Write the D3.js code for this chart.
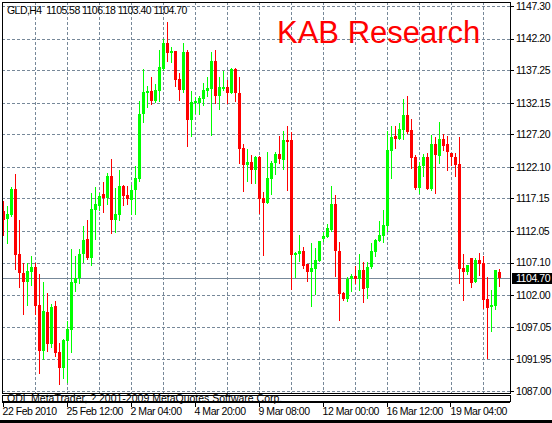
<!DOCTYPE html>
<html><head><meta charset="utf-8">
<script src="https://cdn.jsdelivr.net/npm/d3@7"></script>
<style>html,body{margin:0;padding:0;background:#fff}svg{display:block}</style>
</head><body>
<script>
// ---- data (GLD H4) ----
const opens = [1115.19,1113.94,1114.57,1118.64,1108.46,1105.53,1104.12,1105.69,1106.47,1100.47,
1093.26,1099.42,1094.36,1100.31,1093.15,1090.65,1094.88,1096.56,1103.97,1104.65,
1108.41,1110.76,1107.79,1115.35,1115.98,1117.85,1117.27,1120.68,1113.78,1114.57,
1119.11,1117.70,1116.92,1118.48,1120.16,1130.38,1133.72,1134.03,1132.47,1134.03,
1137.39,1141.56,1139.89,1140.25,1135.87,1134.14,1140.14,1129.45,1132.06,1132.06,
1132.69,1133.98,1134.30,1138.68,1133.20,1134.30,1134.66,1133.72,1137.43,1133.72,
1125.10,1122.40,1122.91,1121.62,1123.71,1117.19,1116.50,1120.16,1122.66,1124.12,
1123.18,1126.31,1126.31,1108.31,1108.46,1108.93,1106.85,1105.59,1106.11,1107.41,
1110.81,1111.17,1112.22,1116.29,1108.93,1102.30,1101.41,1104.50,1105.01,1104.50,
1105.95,1103.18,1106.38,1108.82,1110.54,1111.33,1112.89,1124.64,1126.99,1126.47,
1127.88,1130.23,1127.88,1123.71,1118.84,1122.24,1123.71,1118.64,1125.68,1123.86,
1126.47,1125.68,1124.23,1123.71,1122.56,1106.32,1105.69,1107.88,1104.12,1107.52,
1107.05,1101.36,1100.20,1100.31,1105.58];
const highs = [1116.76,1115.98,1119.00,1120.99,1113.78,1107.05,1107.05,1108.15,1107.05,1105.32,
1104.08,1102.30,1100.62,1101.09,1094.57,1095.15,1098.01,1109.20,1108.15,1109.20,
1112.84,1113.78,1118.06,1118.91,1118.06,1119.78,1121.10,1123.34,1118.75,1121.62,
1119.20,1119.11,1119.27,1122.24,1132.47,1137.43,1134.77,1136.14,1135.08,1140.41,
1142.08,1144.84,1140.84,1140.30,1136.86,1141.56,1140.41,1134.03,1133.00,1133.20,
1135.29,1136.23,1140.14,1140.41,1136.23,1137.12,1135.71,1137.54,1137.54,1136.23,
1125.68,1124.91,1123.97,1123.86,1123.81,1118.22,1124.39,1123.07,1124.39,1126.94,
1127.72,1128.51,1127.61,1108.82,1111.44,1109.60,1106.90,1110.23,1109.44,1110.55,
1111.95,1113.15,1119.11,1117.70,1110.29,1102.56,1104.81,1105.28,1106.63,1108.41,
1107.25,1107.16,1110.23,1110.75,1113.62,1115.35,1127.72,1128.56,1128.56,1128.93,
1132.73,1133.20,1129.56,1123.97,1122.82,1124.12,1124.23,1127.10,1126.83,1129.18,
1127.21,1126.94,1124.33,1124.33,1126.73,1108.46,1106.80,1107.90,1107.88,1108.57,
1108.15,1104.90,1102.82,1106.01,1106.18];
const lows = [1111.44,1110.23,1114.41,1106.11,1103.34,1099.06,1100.47,1103.61,1099.06,1089.87,
1092.01,1093.26,1093.94,1092.53,1088.10,1089.08,1088.37,1093.15,1102.71,1103.97,
1107.25,1107.63,1106.74,1110.81,1115.35,1114.99,1116.25,1111.80,1111.95,1113.78,
1116.14,1116.25,1114.67,1114.72,1119.94,1129.18,1131.44,1131.95,1132.31,1132.47,
1137.28,1138.68,1138.57,1134.82,1132.58,1133.87,1125.37,1126.94,1130.59,1130.34,
1131.79,1133.25,1127.10,1132.06,1131.17,1134.20,1132.06,1133.62,1132.42,1122.76,
1118.37,1119.94,1119.63,1119.63,1114.83,1108.31,1116.45,1117.85,1120.95,1122.66,
1121.73,1118.48,1102.93,1104.90,1107.41,1106.22,1104.23,1100.31,1102.19,1107.35,
1110.49,1111.07,1112.11,1105.06,1098.12,1101.25,1101.09,1102.66,1103.97,1102.82,
1100.98,1101.52,1106.22,1108.20,1110.45,1110.29,1112.06,1120.41,1125.10,1126.42,
1126.47,1127.46,1121.88,1118.59,1118.06,1120.68,1118.59,1118.48,1117.97,1122.76,
1124.75,1121.62,1122.40,1120.68,1103.97,1101.25,1105.32,1103.25,1104.10,1105.17,
1099.95,1092.12,1096.40,1099.84,1103.40];
const closes = [1113.78,1114.72,1118.64,1108.31,1105.53,1104.12,1105.80,1106.47,1100.36,1093.26,
1099.53,1094.36,1100.20,1092.90,1090.65,1094.99,1096.67,1104.03,1104.65,1108.46,
1110.65,1107.79,1115.46,1116.29,1117.54,1117.27,1120.68,1113.78,1114.72,1119.11,
1117.59,1117.02,1118.48,1120.41,1130.38,1133.87,1134.03,1132.47,1134.14,1137.79,
1141.56,1139.89,1140.25,1135.71,1134.14,1140.14,1129.45,1132.27,1132.47,1132.94,
1134.14,1134.50,1138.68,1133.20,1134.66,1134.66,1133.72,1137.43,1133.62,1124.86,
1122.40,1122.91,1121.62,1123.71,1117.03,1116.50,1120.32,1122.76,1124.12,1123.29,
1126.31,1126.04,1108.31,1108.57,1108.93,1106.63,1105.59,1106.22,1107.52,1110.49,
1111.33,1112.57,1116.29,1108.93,1102.19,1101.41,1104.54,1105.01,1104.50,1105.95,
1102.98,1106.38,1108.93,1110.65,1111.44,1113.00,1124.75,1126.83,1126.47,1128.04,
1130.23,1127.61,1123.55,1118.75,1122.24,1123.71,1118.64,1125.68,1123.97,1126.47,
1125.37,1124.44,1123.61,1122.40,1106.11,1105.69,1106.74,1103.97,1107.52,1106.90,
1101.25,1100.04,1100.47,1105.91,1104.70];

const priceTicks = [1147.30,1142.20,1137.25,1132.15,1127.20,1122.10,1117.15,1112.05,1107.10,1102.00,1097.05,1091.95,1087.00];
const timeLabels = ["22 Feb 2010","25 Feb 12:00","2 Mar 04:00","4 Mar 20:00","9 Mar 08:00","12 Mar 00:00","16 Mar 12:00","19 Mar 04:00"];
const timeLabelBars = [0,16,32,48,64,80,96,112];
const gridBars = [8,16,24,32,40,48,56,64,72,80,88,96,104,112,120];
const symbolName = "GLD,H4";
const lastBar = [1105.58,1106.18,1103.40,1104.70];
const lastPrice = 1104.70;
const watermark = "KAB Research";
const footer = "ODL MetaTrader, ? 2001-2009 MetaQuotes Software Corp.";

// ---- drawing ----
const W = 552, H = 423;
const plot = {left:2, right:510, top:2, bottom:393};
const GRID = "#778899", BULL = "#00ff00", BEAR = "#ff0000";
const n = opens.length;

const svg = d3.select("body").append("svg").attr("width", W).attr("height", H)
  .style("font-family", "'Liberation Sans', Arial, sans-serif");
svg.append("rect").attr("width", W).attr("height", H).attr("fill", "#fff");

const x = d3.scaleLinear().domain([0, n - 1]).range([3.5, 3.5 + 4 * (n - 1)]);
const y = d3.scaleLinear().domain([1087.00, 1147.30]).range([391, 6]);
const py = v => Math.round(y(v)) + 0.5;

const g = svg.append("g").attr("shape-rendering", "crispEdges");

// grid
g.selectAll("line.hg").data(priceTicks).join("line").attr("class", "hg")
  .attr("x1", plot.left).attr("x2", plot.right)
  .attr("y1", d => py(d)).attr("y2", d => py(d))
  .attr("stroke", GRID).attr("stroke-dasharray", "3,2");
g.selectAll("line.vg").data(gridBars).join("line").attr("class", "vg")
  .attr("x1", d => x(d)).attr("x2", d => x(d))
  .attr("y1", plot.top).attr("y2", plot.bottom)
  .attr("stroke", GRID).attr("stroke-dasharray", "3,2");

// current price line
g.append("line").attr("x1", plot.left).attr("x2", plot.right)
  .attr("y1", py(lastPrice)).attr("y2", py(lastPrice)).attr("stroke", GRID);

// candles
const bars = d3.range(n).map(i => ({i, o: opens[i], h: highs[i], l: lows[i], c: closes[i]}));
const cg = g.append("g");
cg.selectAll("line.wick").data(bars).join("line").attr("class", "wick")
  .attr("x1", d => x(d.i)).attr("x2", d => x(d.i))
  .attr("y1", d => Math.round(y(d.h))).attr("y2", d => Math.round(y(d.l)) + 1)
  .attr("stroke", d => d.c >= d.o ? BULL : BEAR);
cg.selectAll("rect.body").data(bars).join("rect").attr("class", "body")
  .attr("x", d => x(d.i) - 1.5).attr("width", 3)
  .attr("y", d => Math.round(y(Math.max(d.o, d.c))))
  .attr("height", d => Math.max(1, Math.round(y(Math.min(d.o, d.c))) - Math.round(y(Math.max(d.o, d.c)))))
  .attr("fill", d => d.c >= d.o ? BULL : BEAR);

// frame
g.append("rect").attr("x", plot.left + 0.5).attr("y", plot.top + 0.5)
  .attr("width", plot.right - plot.left).attr("height", plot.bottom - plot.top)
  .attr("fill", "none").attr("stroke", "#000");

// status box
g.append("rect").attr("x", plot.left + 0.5).attr("y", 395.5)
  .attr("width", plot.right - plot.left).attr("height", 6)
  .attr("fill", "#fff").attr("stroke", "#000");
svg.append("text").attr("x", 7).attr("y", 402).attr("font-size", 10.5)
  .attr("fill", "#000").text(footer);

// right price axis
g.selectAll("line.yt").data(priceTicks).join("line").attr("class", "yt")
  .attr("x1", plot.right).attr("x2", plot.right + 4)
  .attr("y1", d => py(d)).attr("y2", d => py(d)).attr("stroke", "#000");
svg.selectAll("text.yl").data(priceTicks).join("text").attr("class", "yl")
  .attr("x", 516).attr("y", d => y(d)).attr("dy", "0.36em")
  .attr("font-size", 10.5).attr("letter-spacing", "-0.45px").attr("fill", "#000")
  .text(d => d.toFixed(2));

// current price tag
g.append("rect").attr("x", 512).attr("y", Math.round(y(lastPrice)) - 5)
  .attr("width", 40).attr("height", 11).attr("fill", "#000");
svg.append("text").attr("x", 516).attr("y", y(lastPrice)).attr("dy", "0.36em")
  .attr("font-size", 10.5).attr("letter-spacing", "-0.45px").attr("fill", "#fff")
  .text(lastPrice.toFixed(2));

// time axis
g.append("line").attr("x1", plot.left).attr("x2", plot.right)
  .attr("y1", 402.5).attr("y2", 402.5).attr("stroke", "#000");
g.selectAll("line.xt").data(timeLabelBars).join("line").attr("class", "xt")
  .attr("x1", d => Math.round(x(d)) - 0.5).attr("x2", d => Math.round(x(d)) - 0.5)
  .attr("y1", 402).attr("y2", 407).attr("stroke", "#000");
svg.selectAll("text.xl").data(timeLabels).join("text").attr("class", "xl")
  .attr("x", (d, k) => x(timeLabelBars[k]) - 1).attr("y", 414.5)
  .attr("font-size", 10.5).attr("letter-spacing", "-0.45px").attr("fill", "#000")
  .text(d => d);

// bottom band
g.append("rect").attr("x", 0).attr("y", 420).attr("width", W).attr("height", 3).attr("fill", "#000");

// header and watermark
svg.append("text").attr("x", 7).attr("y", 14).attr("font-size", 10.5)
  .attr("letter-spacing", "-0.55px").attr("fill", "#000").style("white-space", "pre")
  .text(symbolName + "  " + lastBar.map(v => v.toFixed(2)).join(" "));
svg.append("text").attr("x", 277).attr("y", 43).attr("font-size", 31)
  .attr("fill", "#ff0000").text(watermark);
</script>
</body></html>
